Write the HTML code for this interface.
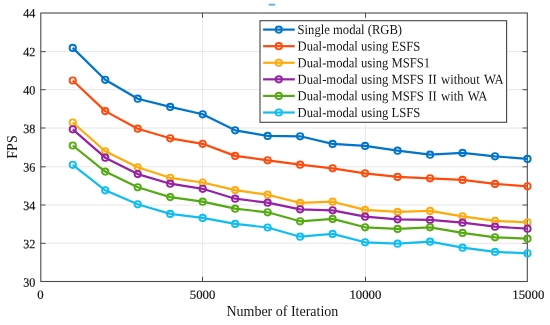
<!DOCTYPE html>
<html><head><meta charset="utf-8"><title>FPS vs Number of Iteration</title>
<style>html,body{margin:0;padding:0;background:#fff}svg{display:block}text{font-family:"Liberation Serif",serif}</style></head>
<body>
<svg width="550" height="325" viewBox="0 0 550 325">
<rect x="0" y="0" width="550" height="325" fill="#fff"/>
<line x1="202.5" y1="13.0" x2="202.5" y2="281.5" stroke="#ebebeb" stroke-width="1"/>
<line x1="365.5" y1="13.0" x2="365.5" y2="281.5" stroke="#ebebeb" stroke-width="1"/>
<line x1="40.8" y1="243.3" x2="527.3" y2="243.3" stroke="#e6e6e6" stroke-width="1"/>
<line x1="40.8" y1="205.0" x2="527.3" y2="205.0" stroke="#e6e6e6" stroke-width="1"/>
<line x1="40.8" y1="166.8" x2="527.3" y2="166.8" stroke="#e6e6e6" stroke-width="1"/>
<line x1="40.8" y1="128.0" x2="527.3" y2="128.0" stroke="#e6e6e6" stroke-width="1"/>
<line x1="40.8" y1="89.7" x2="527.3" y2="89.7" stroke="#e6e6e6" stroke-width="1"/>
<line x1="40.8" y1="51.65" x2="527.3" y2="51.65" stroke="#e6e6e6" stroke-width="1"/>
<rect x="40.8" y="13.0" width="486.50" height="268.50" fill="none" stroke="#4a4a4a" stroke-width="1.1"/>
<line x1="202.50" y1="281.5" x2="202.50" y2="276.7" stroke="#4a4a4a" stroke-width="1"/>
<line x1="202.50" y1="13.0" x2="202.50" y2="17.8" stroke="#4a4a4a" stroke-width="1"/>
<line x1="365.50" y1="281.5" x2="365.50" y2="276.7" stroke="#4a4a4a" stroke-width="1"/>
<line x1="365.50" y1="13.0" x2="365.50" y2="17.8" stroke="#4a4a4a" stroke-width="1"/>
<line x1="40.8" y1="243.30" x2="45.599999999999994" y2="243.30" stroke="#4a4a4a" stroke-width="1"/>
<line x1="527.3" y1="243.30" x2="522.5" y2="243.30" stroke="#4a4a4a" stroke-width="1"/>
<line x1="40.8" y1="205.00" x2="45.599999999999994" y2="205.00" stroke="#4a4a4a" stroke-width="1"/>
<line x1="527.3" y1="205.00" x2="522.5" y2="205.00" stroke="#4a4a4a" stroke-width="1"/>
<line x1="40.8" y1="166.80" x2="45.599999999999994" y2="166.80" stroke="#4a4a4a" stroke-width="1"/>
<line x1="527.3" y1="166.80" x2="522.5" y2="166.80" stroke="#4a4a4a" stroke-width="1"/>
<line x1="40.8" y1="128.00" x2="45.599999999999994" y2="128.00" stroke="#4a4a4a" stroke-width="1"/>
<line x1="527.3" y1="128.00" x2="522.5" y2="128.00" stroke="#4a4a4a" stroke-width="1"/>
<line x1="40.8" y1="89.70" x2="45.599999999999994" y2="89.70" stroke="#4a4a4a" stroke-width="1"/>
<line x1="527.3" y1="89.70" x2="522.5" y2="89.70" stroke="#4a4a4a" stroke-width="1"/>
<line x1="40.8" y1="51.65" x2="45.599999999999994" y2="51.65" stroke="#4a4a4a" stroke-width="1"/>
<line x1="527.3" y1="51.65" x2="522.5" y2="51.65" stroke="#4a4a4a" stroke-width="1"/>
<text transform="translate(35.4,286.70) rotate(0.03) scale(0.95,1)" font-size="12.8" text-anchor="end" fill="#141414" stroke="#141414" stroke-width="0.18">30</text>
<text transform="translate(35.4,248.34) rotate(0.03) scale(0.95,1)" font-size="12.8" text-anchor="end" fill="#141414" stroke="#141414" stroke-width="0.18">32</text>
<text transform="translate(35.4,209.99) rotate(0.03) scale(0.95,1)" font-size="12.8" text-anchor="end" fill="#141414" stroke="#141414" stroke-width="0.18">34</text>
<text transform="translate(35.4,171.53) rotate(0.03) scale(0.95,1)" font-size="12.8" text-anchor="end" fill="#141414" stroke="#141414" stroke-width="0.18">36</text>
<text transform="translate(35.4,133.07) rotate(0.03) scale(0.95,1)" font-size="12.8" text-anchor="end" fill="#141414" stroke="#141414" stroke-width="0.18">38</text>
<text transform="translate(35.4,94.61) rotate(0.03) scale(0.95,1)" font-size="12.8" text-anchor="end" fill="#141414" stroke="#141414" stroke-width="0.18">40</text>
<text transform="translate(35.4,56.16) rotate(0.03) scale(0.95,1)" font-size="12.8" text-anchor="end" fill="#141414" stroke="#141414" stroke-width="0.18">42</text>
<text transform="translate(35.4,17.50) rotate(0.03) scale(0.95,1)" font-size="12.8" text-anchor="end" fill="#141414" stroke="#141414" stroke-width="0.18">44</text>
<text transform="translate(40.50,298.8) rotate(0.03) scale(1.03,1)" font-size="12.4" text-anchor="middle" fill="#141414" stroke="#141414" stroke-width="0.18">0</text>
<text transform="translate(202.57,298.8) rotate(0.03) scale(1.03,1)" font-size="12.4" text-anchor="middle" fill="#141414" stroke="#141414" stroke-width="0.18">5000</text>
<text transform="translate(365.43,298.8) rotate(0.03) scale(1.03,1)" font-size="12.4" text-anchor="middle" fill="#141414" stroke="#141414" stroke-width="0.18">10000</text>
<text transform="translate(528.30,298.8) rotate(0.03) scale(1.03,1)" font-size="12.4" text-anchor="middle" fill="#141414" stroke="#141414" stroke-width="0.18">15000</text>
<text x="282.4" y="316.2" font-size="14" text-anchor="middle" fill="#141414">Number of Iteration</text>
<text transform="translate(17.1,147) rotate(-90)" font-size="14" text-anchor="middle" fill="#141414">FPS</text>
<line x1="268.8" y1="4.7" x2="275.1" y2="4.7" stroke="#4fb0e6" stroke-width="1.8"/>
<polyline points="72.75,47.90 105.23,79.80 137.71,98.70 170.20,106.90 202.68,114.30 235.16,130.30 267.64,135.90 300.12,136.30 332.61,143.90 365.09,145.90 397.57,150.70 430.05,154.70 462.54,152.90 495.02,156.30 527.50,158.90" fill="none" stroke="#0073CC" stroke-width="2.2" stroke-linejoin="round"/>
<circle cx="72.75" cy="47.90" r="3.15" fill="none" stroke="#0073CC" stroke-width="1.9"/>
<circle cx="105.23" cy="79.80" r="3.15" fill="none" stroke="#0073CC" stroke-width="1.9"/>
<circle cx="137.71" cy="98.70" r="3.15" fill="none" stroke="#0073CC" stroke-width="1.9"/>
<circle cx="170.20" cy="106.90" r="3.15" fill="none" stroke="#0073CC" stroke-width="1.9"/>
<circle cx="202.68" cy="114.30" r="3.15" fill="none" stroke="#0073CC" stroke-width="1.9"/>
<circle cx="235.16" cy="130.30" r="3.15" fill="none" stroke="#0073CC" stroke-width="1.9"/>
<circle cx="267.64" cy="135.90" r="3.15" fill="none" stroke="#0073CC" stroke-width="1.9"/>
<circle cx="300.12" cy="136.30" r="3.15" fill="none" stroke="#0073CC" stroke-width="1.9"/>
<circle cx="332.61" cy="143.90" r="3.15" fill="none" stroke="#0073CC" stroke-width="1.9"/>
<circle cx="365.09" cy="145.90" r="3.15" fill="none" stroke="#0073CC" stroke-width="1.9"/>
<circle cx="397.57" cy="150.70" r="3.15" fill="none" stroke="#0073CC" stroke-width="1.9"/>
<circle cx="430.05" cy="154.70" r="3.15" fill="none" stroke="#0073CC" stroke-width="1.9"/>
<circle cx="462.54" cy="152.90" r="3.15" fill="none" stroke="#0073CC" stroke-width="1.9"/>
<circle cx="495.02" cy="156.30" r="3.15" fill="none" stroke="#0073CC" stroke-width="1.9"/>
<circle cx="527.50" cy="158.90" r="3.15" fill="none" stroke="#0073CC" stroke-width="1.9"/>
<polyline points="72.75,80.50 105.23,111.10 137.71,128.70 170.20,138.30 202.68,143.80 235.16,155.90 267.64,160.30 300.12,164.70 332.61,168.30 365.09,173.30 397.57,176.90 430.05,178.30 462.54,179.90 495.02,183.90 527.50,186.30" fill="none" stroke="#FF4A0C" stroke-width="2.2" stroke-linejoin="round"/>
<circle cx="72.75" cy="80.50" r="3.15" fill="none" stroke="#FF4A0C" stroke-width="1.9"/>
<circle cx="105.23" cy="111.10" r="3.15" fill="none" stroke="#FF4A0C" stroke-width="1.9"/>
<circle cx="137.71" cy="128.70" r="3.15" fill="none" stroke="#FF4A0C" stroke-width="1.9"/>
<circle cx="170.20" cy="138.30" r="3.15" fill="none" stroke="#FF4A0C" stroke-width="1.9"/>
<circle cx="202.68" cy="143.80" r="3.15" fill="none" stroke="#FF4A0C" stroke-width="1.9"/>
<circle cx="235.16" cy="155.90" r="3.15" fill="none" stroke="#FF4A0C" stroke-width="1.9"/>
<circle cx="267.64" cy="160.30" r="3.15" fill="none" stroke="#FF4A0C" stroke-width="1.9"/>
<circle cx="300.12" cy="164.70" r="3.15" fill="none" stroke="#FF4A0C" stroke-width="1.9"/>
<circle cx="332.61" cy="168.30" r="3.15" fill="none" stroke="#FF4A0C" stroke-width="1.9"/>
<circle cx="365.09" cy="173.30" r="3.15" fill="none" stroke="#FF4A0C" stroke-width="1.9"/>
<circle cx="397.57" cy="176.90" r="3.15" fill="none" stroke="#FF4A0C" stroke-width="1.9"/>
<circle cx="430.05" cy="178.30" r="3.15" fill="none" stroke="#FF4A0C" stroke-width="1.9"/>
<circle cx="462.54" cy="179.90" r="3.15" fill="none" stroke="#FF4A0C" stroke-width="1.9"/>
<circle cx="495.02" cy="183.90" r="3.15" fill="none" stroke="#FF4A0C" stroke-width="1.9"/>
<circle cx="527.50" cy="186.30" r="3.15" fill="none" stroke="#FF4A0C" stroke-width="1.9"/>
<polyline points="72.75,122.50 105.23,151.30 137.71,167.30 170.20,177.80 202.68,182.50 235.16,190.10 267.64,194.70 300.12,202.90 332.61,201.70 365.09,209.90 397.57,211.90 430.05,210.90 462.54,216.30 495.02,220.90 527.50,222.30" fill="none" stroke="#FFAA0A" stroke-width="2.2" stroke-linejoin="round"/>
<circle cx="72.75" cy="122.50" r="3.15" fill="none" stroke="#FFAA0A" stroke-width="1.9"/>
<circle cx="105.23" cy="151.30" r="3.15" fill="none" stroke="#FFAA0A" stroke-width="1.9"/>
<circle cx="137.71" cy="167.30" r="3.15" fill="none" stroke="#FFAA0A" stroke-width="1.9"/>
<circle cx="170.20" cy="177.80" r="3.15" fill="none" stroke="#FFAA0A" stroke-width="1.9"/>
<circle cx="202.68" cy="182.50" r="3.15" fill="none" stroke="#FFAA0A" stroke-width="1.9"/>
<circle cx="235.16" cy="190.10" r="3.15" fill="none" stroke="#FFAA0A" stroke-width="1.9"/>
<circle cx="267.64" cy="194.70" r="3.15" fill="none" stroke="#FFAA0A" stroke-width="1.9"/>
<circle cx="300.12" cy="202.90" r="3.15" fill="none" stroke="#FFAA0A" stroke-width="1.9"/>
<circle cx="332.61" cy="201.70" r="3.15" fill="none" stroke="#FFAA0A" stroke-width="1.9"/>
<circle cx="365.09" cy="209.90" r="3.15" fill="none" stroke="#FFAA0A" stroke-width="1.9"/>
<circle cx="397.57" cy="211.90" r="3.15" fill="none" stroke="#FFAA0A" stroke-width="1.9"/>
<circle cx="430.05" cy="210.90" r="3.15" fill="none" stroke="#FFAA0A" stroke-width="1.9"/>
<circle cx="462.54" cy="216.30" r="3.15" fill="none" stroke="#FFAA0A" stroke-width="1.9"/>
<circle cx="495.02" cy="220.90" r="3.15" fill="none" stroke="#FFAA0A" stroke-width="1.9"/>
<circle cx="527.50" cy="222.30" r="3.15" fill="none" stroke="#FFAA0A" stroke-width="1.9"/>
<polyline points="72.75,129.30 105.23,157.70 137.71,174.10 170.20,183.70 202.68,188.80 235.16,198.70 267.64,202.70 300.12,209.30 332.61,210.30 365.09,216.70 397.57,219.30 430.05,219.90 462.54,222.70 495.02,226.70 527.50,228.70" fill="none" stroke="#9621A2" stroke-width="2.2" stroke-linejoin="round"/>
<circle cx="72.75" cy="129.30" r="3.15" fill="none" stroke="#9621A2" stroke-width="1.9"/>
<circle cx="105.23" cy="157.70" r="3.15" fill="none" stroke="#9621A2" stroke-width="1.9"/>
<circle cx="137.71" cy="174.10" r="3.15" fill="none" stroke="#9621A2" stroke-width="1.9"/>
<circle cx="170.20" cy="183.70" r="3.15" fill="none" stroke="#9621A2" stroke-width="1.9"/>
<circle cx="202.68" cy="188.80" r="3.15" fill="none" stroke="#9621A2" stroke-width="1.9"/>
<circle cx="235.16" cy="198.70" r="3.15" fill="none" stroke="#9621A2" stroke-width="1.9"/>
<circle cx="267.64" cy="202.70" r="3.15" fill="none" stroke="#9621A2" stroke-width="1.9"/>
<circle cx="300.12" cy="209.30" r="3.15" fill="none" stroke="#9621A2" stroke-width="1.9"/>
<circle cx="332.61" cy="210.30" r="3.15" fill="none" stroke="#9621A2" stroke-width="1.9"/>
<circle cx="365.09" cy="216.70" r="3.15" fill="none" stroke="#9621A2" stroke-width="1.9"/>
<circle cx="397.57" cy="219.30" r="3.15" fill="none" stroke="#9621A2" stroke-width="1.9"/>
<circle cx="430.05" cy="219.90" r="3.15" fill="none" stroke="#9621A2" stroke-width="1.9"/>
<circle cx="462.54" cy="222.70" r="3.15" fill="none" stroke="#9621A2" stroke-width="1.9"/>
<circle cx="495.02" cy="226.70" r="3.15" fill="none" stroke="#9621A2" stroke-width="1.9"/>
<circle cx="527.50" cy="228.70" r="3.15" fill="none" stroke="#9621A2" stroke-width="1.9"/>
<polyline points="72.75,145.50 105.23,171.60 137.71,187.30 170.20,197.10 202.68,201.70 235.16,208.70 267.64,212.30 300.12,221.30 332.61,218.90 365.09,227.30 397.57,228.90 430.05,227.30 462.54,232.90 495.02,237.30 527.50,238.70" fill="none" stroke="#55AA14" stroke-width="2.2" stroke-linejoin="round"/>
<circle cx="72.75" cy="145.50" r="3.15" fill="none" stroke="#55AA14" stroke-width="1.9"/>
<circle cx="105.23" cy="171.60" r="3.15" fill="none" stroke="#55AA14" stroke-width="1.9"/>
<circle cx="137.71" cy="187.30" r="3.15" fill="none" stroke="#55AA14" stroke-width="1.9"/>
<circle cx="170.20" cy="197.10" r="3.15" fill="none" stroke="#55AA14" stroke-width="1.9"/>
<circle cx="202.68" cy="201.70" r="3.15" fill="none" stroke="#55AA14" stroke-width="1.9"/>
<circle cx="235.16" cy="208.70" r="3.15" fill="none" stroke="#55AA14" stroke-width="1.9"/>
<circle cx="267.64" cy="212.30" r="3.15" fill="none" stroke="#55AA14" stroke-width="1.9"/>
<circle cx="300.12" cy="221.30" r="3.15" fill="none" stroke="#55AA14" stroke-width="1.9"/>
<circle cx="332.61" cy="218.90" r="3.15" fill="none" stroke="#55AA14" stroke-width="1.9"/>
<circle cx="365.09" cy="227.30" r="3.15" fill="none" stroke="#55AA14" stroke-width="1.9"/>
<circle cx="397.57" cy="228.90" r="3.15" fill="none" stroke="#55AA14" stroke-width="1.9"/>
<circle cx="430.05" cy="227.30" r="3.15" fill="none" stroke="#55AA14" stroke-width="1.9"/>
<circle cx="462.54" cy="232.90" r="3.15" fill="none" stroke="#55AA14" stroke-width="1.9"/>
<circle cx="495.02" cy="237.30" r="3.15" fill="none" stroke="#55AA14" stroke-width="1.9"/>
<circle cx="527.50" cy="238.70" r="3.15" fill="none" stroke="#55AA14" stroke-width="1.9"/>
<polyline points="72.75,164.80 105.23,190.30 137.71,204.30 170.20,213.90 202.68,217.90 235.16,223.90 267.64,227.50 300.12,236.70 332.61,233.90 365.09,242.30 397.57,243.70 430.05,241.70 462.54,247.70 495.02,251.90 527.50,253.30" fill="none" stroke="#10BDF2" stroke-width="2.2" stroke-linejoin="round"/>
<circle cx="72.75" cy="164.80" r="3.15" fill="none" stroke="#10BDF2" stroke-width="1.9"/>
<circle cx="105.23" cy="190.30" r="3.15" fill="none" stroke="#10BDF2" stroke-width="1.9"/>
<circle cx="137.71" cy="204.30" r="3.15" fill="none" stroke="#10BDF2" stroke-width="1.9"/>
<circle cx="170.20" cy="213.90" r="3.15" fill="none" stroke="#10BDF2" stroke-width="1.9"/>
<circle cx="202.68" cy="217.90" r="3.15" fill="none" stroke="#10BDF2" stroke-width="1.9"/>
<circle cx="235.16" cy="223.90" r="3.15" fill="none" stroke="#10BDF2" stroke-width="1.9"/>
<circle cx="267.64" cy="227.50" r="3.15" fill="none" stroke="#10BDF2" stroke-width="1.9"/>
<circle cx="300.12" cy="236.70" r="3.15" fill="none" stroke="#10BDF2" stroke-width="1.9"/>
<circle cx="332.61" cy="233.90" r="3.15" fill="none" stroke="#10BDF2" stroke-width="1.9"/>
<circle cx="365.09" cy="242.30" r="3.15" fill="none" stroke="#10BDF2" stroke-width="1.9"/>
<circle cx="397.57" cy="243.70" r="3.15" fill="none" stroke="#10BDF2" stroke-width="1.9"/>
<circle cx="430.05" cy="241.70" r="3.15" fill="none" stroke="#10BDF2" stroke-width="1.9"/>
<circle cx="462.54" cy="247.70" r="3.15" fill="none" stroke="#10BDF2" stroke-width="1.9"/>
<circle cx="495.02" cy="251.90" r="3.15" fill="none" stroke="#10BDF2" stroke-width="1.9"/>
<circle cx="527.50" cy="253.30" r="3.15" fill="none" stroke="#10BDF2" stroke-width="1.9"/>
<rect x="260.0" y="20.7" width="246.60" height="101.60" fill="#fff" stroke="#444" stroke-width="1.1"/>
<line x1="263.1" y1="29.60" x2="294.8" y2="29.60" stroke="#0073CC" stroke-width="2.2"/>
<circle cx="278.8" cy="29.60" r="3.15" fill="none" stroke="#0073CC" stroke-width="1.9"/>
<text transform="translate(297.6,34.00) rotate(0.03) scale(0.929,1)" font-size="13.6" fill="#141414">Single modal (RGB)</text>
<line x1="263.1" y1="46.18" x2="294.8" y2="46.18" stroke="#FF4A0C" stroke-width="2.2"/>
<circle cx="278.8" cy="46.18" r="3.15" fill="none" stroke="#FF4A0C" stroke-width="1.9"/>
<text transform="translate(297.6,50.58) rotate(0.03) scale(0.929,1)" font-size="13.6" fill="#141414">Dual-modal using ESFS</text>
<line x1="263.1" y1="62.76" x2="294.8" y2="62.76" stroke="#FFAA0A" stroke-width="2.2"/>
<circle cx="278.8" cy="62.76" r="3.15" fill="none" stroke="#FFAA0A" stroke-width="1.9"/>
<text transform="translate(297.6,67.16) rotate(0.03) scale(0.929,1)" font-size="13.6" fill="#141414">Dual-modal using MSFS1</text>
<line x1="263.1" y1="79.34" x2="294.8" y2="79.34" stroke="#9621A2" stroke-width="2.2"/>
<circle cx="278.8" cy="79.34" r="3.15" fill="none" stroke="#9621A2" stroke-width="1.9"/>
<text transform="translate(297.6,83.74) rotate(0.03) scale(0.929,1)" font-size="13.6" fill="#141414">Dual-modal using <tspan word-spacing="1.4">MSFS II without WA</tspan></text>
<line x1="263.1" y1="95.92" x2="294.8" y2="95.92" stroke="#55AA14" stroke-width="2.2"/>
<circle cx="278.8" cy="95.92" r="3.15" fill="none" stroke="#55AA14" stroke-width="1.9"/>
<text transform="translate(297.6,100.32) rotate(0.03) scale(0.929,1)" font-size="13.6" fill="#141414">Dual-modal using <tspan word-spacing="1.4">MSFS II with WA</tspan></text>
<line x1="263.1" y1="112.50" x2="294.8" y2="112.50" stroke="#10BDF2" stroke-width="2.2"/>
<circle cx="278.8" cy="112.50" r="3.15" fill="none" stroke="#10BDF2" stroke-width="1.9"/>
<text transform="translate(297.6,116.90) rotate(0.03) scale(0.929,1)" font-size="13.6" fill="#141414">Dual-modal using LSFS</text>
</svg>
</body></html>
